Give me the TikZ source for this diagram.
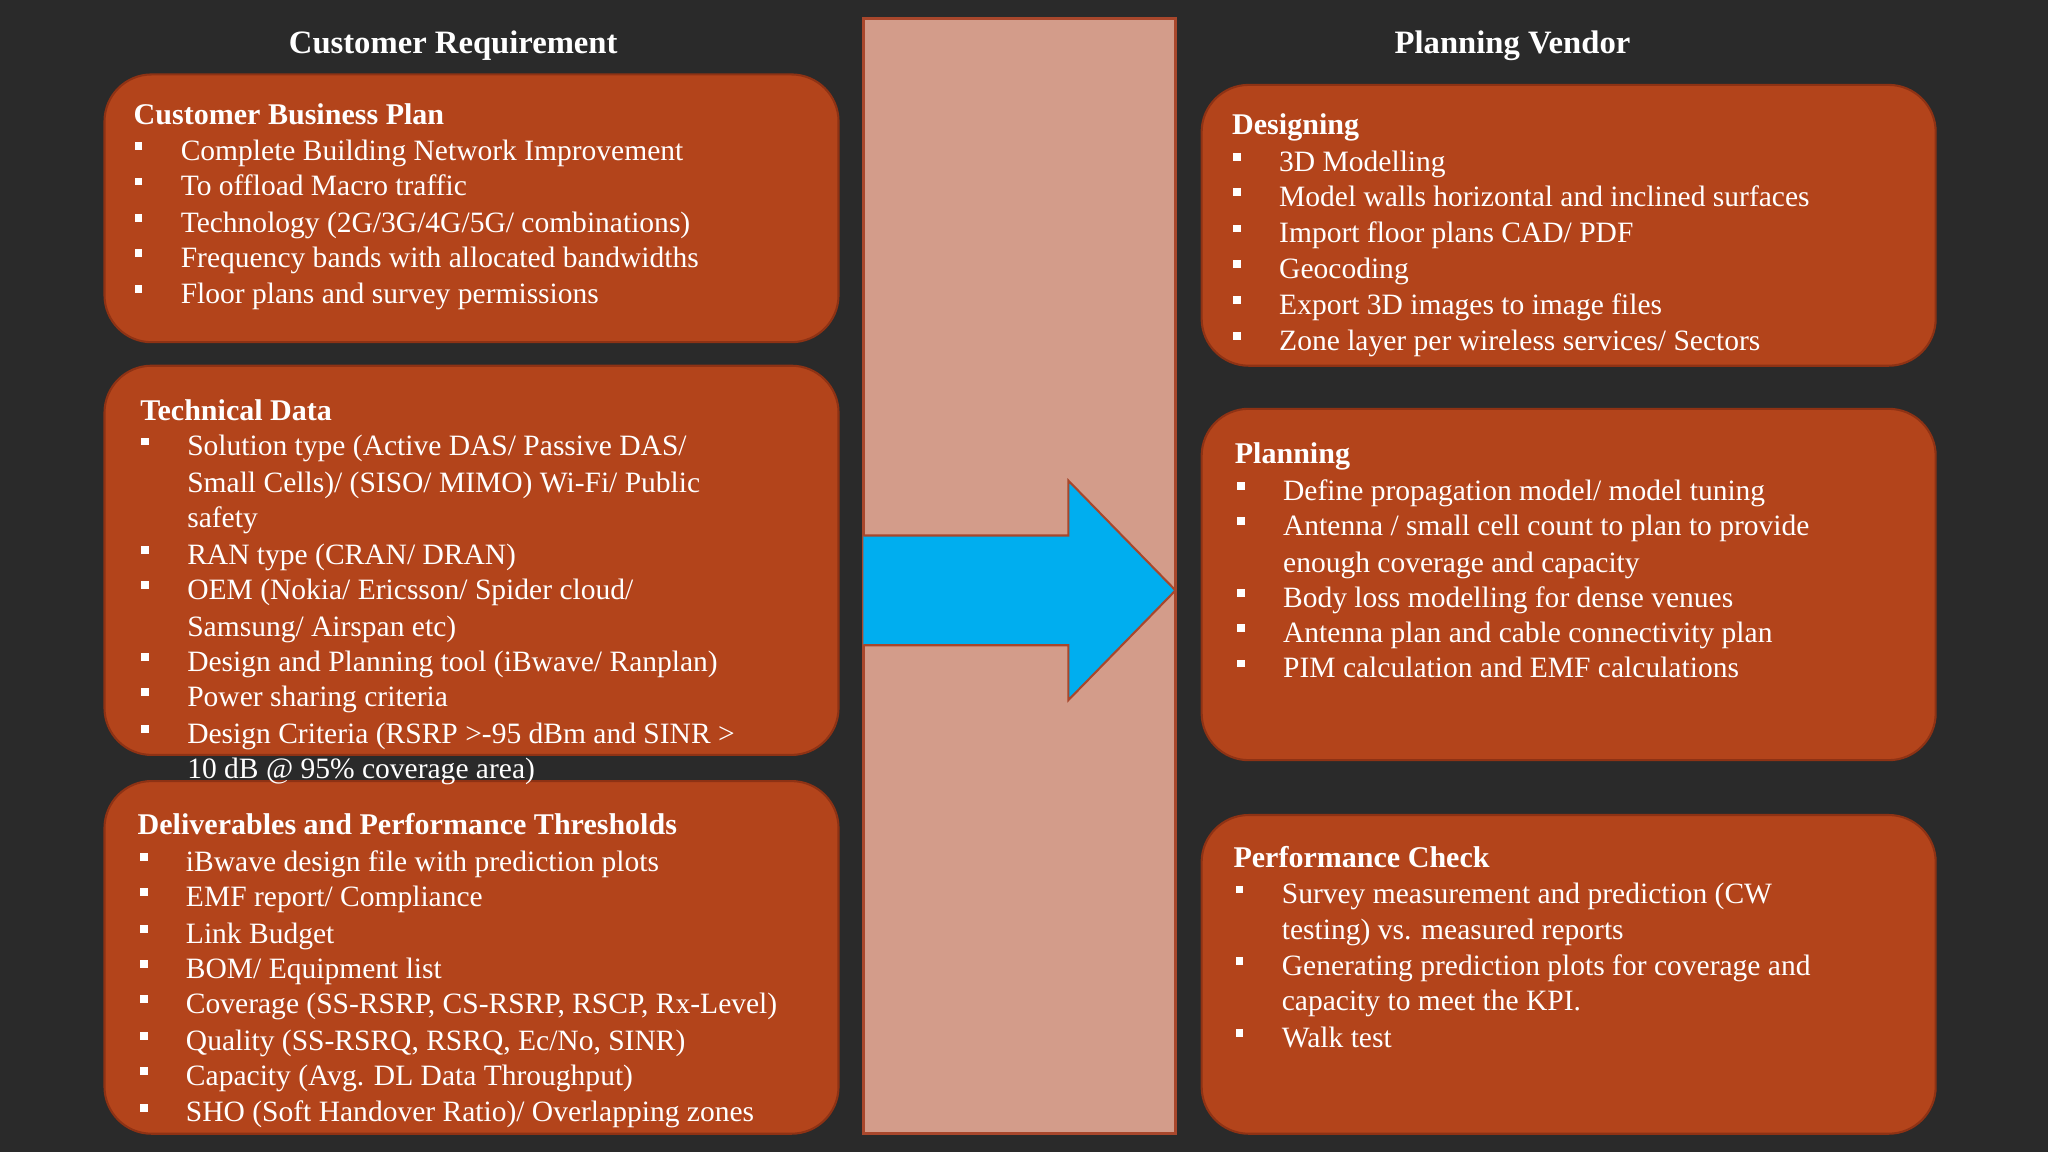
\documentclass[tikz,border=0pt]{standalone}
\usepackage{fontspec}
\setmainfont{Liberation Serif}
\definecolor{bg}{HTML}{2A2A2A}
\definecolor{box}{HTML}{B3441B}
\definecolor{boxb}{HTML}{8E3214}
\definecolor{mid}{HTML}{D39C8A}
\definecolor{midb}{HTML}{A8472C}
\definecolor{arr}{HTML}{00AEEF}
\newcommand\tx{0}\newcommand\bxx{0}
\newcommand\tl[2]{\node[txt] at (\tx,#1+7) {#2};}
\newcommand\bl[1]{\fill[white] (\bxx-3,#1-7) rectangle (\bxx+3,#1-1);}
\newcommand\hd[3]{\node[hdr] at (#1,#2+7) {#3};}
\begin{document}
\begin{tikzpicture}[x=0.5pt,y=-0.5pt,
 txt/.style={anchor=base west,inner sep=0,text=white,font=\fontsize{11.3}{13}\selectfont},
 hdr/.style={txt,font=\fontsize{11.5}{13}\selectfont\bfseries},
 ttl/.style={text=white,font=\fontsize{12.5}{14}\selectfont\bfseries},
 bx/.style={fill=box,draw=boxb,line width=0.8pt,rounded corners=18pt}]
\fill[bg] (0,0) rectangle (1568,882);
\useasboundingbox (0,0) rectangle (1568,882);
\node[ttl] (t1) at (347,35) {Customer Requirement};
\node[ttl] (t2) at (1158,35) {Planning Vendor};
\draw[bx] (80,57) rectangle (642,262);
\draw[bx] (80,280) rectangle (642,578);
\draw[bx] (80,598) rectangle (642,868);
\draw[bx] (920,65) rectangle (1482,280);
\draw[bx] (920,313) rectangle (1482,582);
\draw[bx] (920,624) rectangle (1482,868);
\draw[fill=mid,draw=midb,line width=1pt] (661,14) rectangle (900,868);
\draw[fill=arr,draw=midb,line width=0.8pt] (661,410) -- (818,410) -- (818,368) -- (900,452) -- (818,536) -- (818,494) -- (661,494);
% box 1
\hd{102}{88}{Customer Business Plan}
\renewcommand\tx{138}\renewcommand\bxx{106}
\bl{116}\tl{116}{Complete Building Network Improvement}
\bl{143}\tl{143}{To offload Macro traffic}
\bl{171}\tl{171}{Technology (2G/3G/4G/5G/ combinations)}
\bl{198}\tl{198}{Frequency bands with allocated bandwidths}
\bl{225}\tl{225}{Floor plans and survey permissions}
% box 2
\hd{107}{315}{Technical Data}
\renewcommand\tx{143}\renewcommand\bxx{111}
\bl{342}\tl{342}{Solution type (Active DAS/ Passive DAS/}
\tl{370}{Small Cells)/ (SISO/ MIMO) Wi-Fi/ Public}
\tl{397}{safety}
\bl{425}\tl{425}{RAN type (CRAN/ DRAN)}
\bl{452}\tl{452}{OEM (Nokia/ Ericsson/ Spider cloud/}
\tl{480}{Samsung/ Airspan etc)}
\bl{507}\tl{507}{Design and Planning tool (iBwave/ Ranplan)}
\bl{534}\tl{534}{Power sharing criteria}
\bl{562}\tl{562}{Design Criteria (RSRP >-95 dBm and SINR >}
\tl{589}{10 dB @ 95\% coverage area)}
% box 3
\hd{105}{632}{Deliverables and Performance Thresholds}
\renewcommand\tx{142}\renewcommand\bxx{110}
\bl{660}\tl{660}{iBwave design file with prediction plots}
\bl{687}\tl{687}{EMF report/ Compliance}
\bl{715}\tl{715}{Link Budget}
\bl{742}\tl{742}{BOM/ Equipment list}
\bl{769}\tl{769}{Coverage (SS-RSRP, CS-RSRP, RSCP, Rx-Level)}
\bl{797}\tl{797}{Quality (SS-RSRQ, RSRQ, Ec/No, SINR)}
\bl{824}\tl{824}{Capacity (Avg. DL Data Throughput)}
\bl{852}\tl{852}{SHO (Soft Handover Ratio)/ Overlapping zones}
% right 1
\hd{943}{96}{Designing}
\renewcommand\tx{979}\renewcommand\bxx{947}
\bl{124}\tl{124}{3D Modelling}
\bl{151}\tl{151}{Model walls horizontal and inclined surfaces}
\bl{179}\tl{179}{Import floor plans CAD/ PDF}
\bl{206}\tl{206}{Geocoding}
\bl{234}\tl{234}{Export 3D images to image files}
\bl{261}\tl{261}{Zone layer per wireless services/ Sectors}
% right 2
\hd{945}{348}{Planning}
\renewcommand\tx{982}\renewcommand\bxx{950}
\bl{376}\tl{376}{Define propagation model/ model tuning}
\bl{403}\tl{403}{Antenna / small cell count to plan to provide}
\tl{431}{enough coverage and capacity}
\bl{458}\tl{458}{Body loss modelling for dense venues}
\bl{485}\tl{485}{Antenna plan and cable connectivity plan}
\bl{512}\tl{512}{PIM calculation and EMF calculations}
% right 3
\hd{944}{657}{Performance Check}
\renewcommand\tx{981}\renewcommand\bxx{949}
\bl{685}\tl{685}{Survey measurement and prediction (CW}
\tl{712}{testing) vs. measured reports}
\bl{740}\tl{740}{Generating prediction plots for coverage and}
\tl{767}{capacity to meet the KPI.}
\bl{795}\tl{795}{Walk test}
\end{tikzpicture}
\end{document}
